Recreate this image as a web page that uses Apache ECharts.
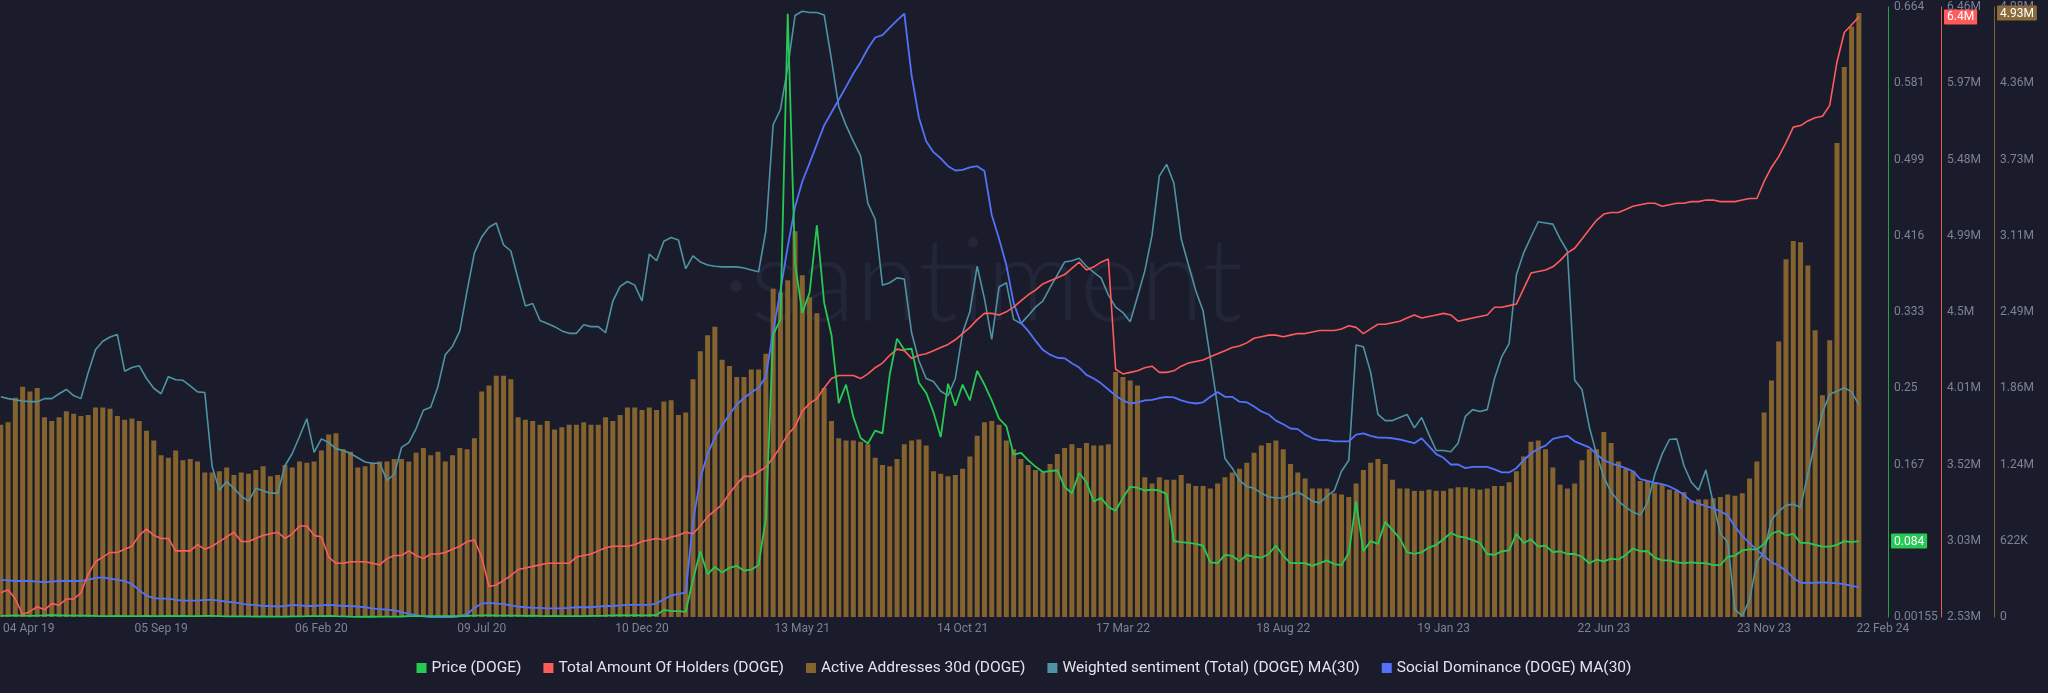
<!DOCTYPE html>
<html>
<head>
<meta charset="utf-8">
<title>DOGE</title>
<script src="https://cdn.jsdelivr.net/npm/echarts@6.0.0/dist/echarts.min.js"></script>
<style>
  html, body { margin: 0; padding: 0; background: #1a1c2b; }
  #main { width: 2048px; height: 693px; }
</style>
</head>
<body>
<div id="main"></div>
<script>
// weekly points, first one is 04 Apr 19, last one 22 Feb 24 (256 weeks)
var startDay = Date.UTC(2019, 3, 4);
var weeksShown = 260; // axis runs a few weeks past the last point

var price = [
  0.0027, 0.0031, 0.0032, 0.0030, 0.0028, 0.0031, 0.0033, 0.0037, 0.0034, 0.0032,
  0.0030, 0.0031, 0.0029, 0.0027, 0.0026, 0.0026, 0.0027, 0.0025, 0.0026, 0.0026,
  0.0027, 0.0026, 0.0025, 0.0027, 0.0026, 0.0027, 0.0025, 0.0026, 0.0027, 0.0028,
  0.0026, 0.0023, 0.0022, 0.0023, 0.0022, 0.0020, 0.0021, 0.0020, 0.0020, 0.0020,
  0.0022, 0.0023, 0.0024, 0.0026, 0.0025, 0.0027, 0.0024, 0.0022, 0.0019, 0.0017,
  0.0019, 0.0018, 0.0019, 0.0019, 0.0020, 0.0021, 0.0024, 0.0025, 0.0025, 0.0026,
  0.0025, 0.0024, 0.0025, 0.0025, 0.0027, 0.0030, 0.0033, 0.0034, 0.0032, 0.0031,
  0.0031, 0.0030, 0.0028, 0.0029, 0.0027, 0.0026, 0.0027, 0.0026, 0.0026, 0.0026,
  0.0026, 0.0027, 0.0028, 0.0030, 0.0033, 0.0035, 0.0034, 0.0036, 0.0034, 0.0034,
  0.0037, 0.0093, 0.0080, 0.0080, 0.0072, 0.042, 0.073, 0.048, 0.056, 0.050,
  0.055, 0.057, 0.052, 0.053, 0.058, 0.109, 0.308, 0.325, 0.657, 0.386,
  0.332, 0.354, 0.427, 0.343, 0.308, 0.234, 0.254, 0.219, 0.196, 0.190,
  0.204, 0.201, 0.265, 0.304, 0.292, 0.293, 0.256, 0.245, 0.224, 0.197,
  0.255, 0.231, 0.254, 0.237, 0.269, 0.254, 0.237, 0.217, 0.209, 0.178,
  0.180, 0.172, 0.165, 0.159, 0.160, 0.161, 0.143, 0.136, 0.158, 0.148,
  0.127, 0.131, 0.121, 0.117, 0.131, 0.143, 0.142, 0.139, 0.140, 0.139,
  0.135, 0.084, 0.083, 0.082, 0.081, 0.079, 0.061, 0.060, 0.069, 0.068,
  0.062, 0.069, 0.067, 0.066, 0.070, 0.079, 0.068, 0.060, 0.060, 0.060,
  0.057, 0.060, 0.063, 0.059, 0.058, 0.071, 0.127, 0.073, 0.084, 0.081,
  0.105, 0.096, 0.087, 0.072, 0.070, 0.072, 0.077, 0.080, 0.086, 0.093,
  0.089, 0.088, 0.085, 0.082, 0.070, 0.069, 0.073, 0.074, 0.092, 0.082,
  0.086, 0.078, 0.079, 0.072, 0.073, 0.070, 0.070, 0.067, 0.060, 0.064,
  0.062, 0.065, 0.064, 0.069, 0.076, 0.073, 0.073, 0.066, 0.063, 0.063,
  0.061, 0.060, 0.061, 0.060, 0.060, 0.058, 0.058, 0.067, 0.068, 0.074,
  0.075, 0.075, 0.081, 0.092, 0.095, 0.090, 0.092, 0.082, 0.082, 0.080,
  0.078, 0.078, 0.080, 0.084, 0.083, 0.084
];

// millions
var holders = [
  2.69, 2.71, 2.65, 2.55, 2.57, 2.60, 2.58, 2.62, 2.61, 2.65,
  2.65, 2.69, 2.81, 2.89, 2.92, 2.95, 2.95, 2.97, 2.99, 3.06,
  3.10, 3.06, 3.04, 3.04, 2.96, 2.96, 2.96, 3.00, 2.97, 2.99,
  3.02, 3.05, 3.08, 3.02, 3.02, 3.04, 3.06, 3.07, 3.08, 3.04,
  3.07, 3.12, 3.12, 3.06, 3.05, 2.92, 2.88, 2.88, 2.89, 2.89,
  2.89, 2.88, 2.87, 2.91, 2.93, 2.93, 2.96, 2.93, 2.91, 2.94,
  2.94, 2.95, 2.97, 2.99, 3.02, 3.03, 2.92, 2.73, 2.74, 2.77,
  2.80, 2.84, 2.85, 2.86, 2.87, 2.88, 2.88, 2.88, 2.88, 2.92,
  2.93, 2.94, 2.96, 2.98, 2.99, 2.99, 2.99, 3.00, 3.02, 3.03,
  3.04, 3.03, 3.05, 3.06, 3.08, 3.07, 3.12, 3.18, 3.22, 3.26,
  3.33, 3.39, 3.44, 3.44, 3.47, 3.50, 3.56, 3.63, 3.71, 3.76,
  3.86, 3.91, 3.94, 4.01, 4.07, 4.09, 4.09, 4.09, 4.07, 4.10,
  4.14, 4.17, 4.22, 4.26, 4.25, 4.20, 4.22, 4.23, 4.25, 4.27,
  4.29, 4.32, 4.36, 4.40, 4.45, 4.49, 4.49, 4.48, 4.50, 4.53,
  4.57, 4.61, 4.64, 4.68, 4.70, 4.72, 4.74, 4.78, 4.82, 4.77,
  4.79, 4.82, 4.84, 4.13, 4.10, 4.11, 4.12, 4.14, 4.15, 4.11,
  4.11, 4.12, 4.15, 4.17, 4.18, 4.19, 4.21, 4.23, 4.25, 4.27,
  4.28, 4.30, 4.33, 4.34, 4.35, 4.35, 4.34, 4.35, 4.36, 4.36,
  4.37, 4.38, 4.38, 4.38, 4.39, 4.41, 4.40, 4.36, 4.39, 4.42,
  4.42, 4.43, 4.44, 4.46, 4.48, 4.46, 4.47, 4.48, 4.49, 4.48,
  4.44, 4.45, 4.46, 4.47, 4.48, 4.53, 4.53, 4.54, 4.55, 4.65,
  4.75, 4.76, 4.77, 4.79, 4.83, 4.88, 4.91, 4.97, 5.03, 5.09,
  5.13, 5.14, 5.14, 5.16, 5.18, 5.19, 5.20, 5.20, 5.18, 5.19,
  5.20, 5.20, 5.21, 5.21, 5.22, 5.22, 5.21, 5.21, 5.21, 5.22,
  5.23, 5.23, 5.34, 5.43, 5.50, 5.59, 5.69, 5.70, 5.73, 5.75,
  5.76, 5.83, 6.11, 6.30, 6.35, 6.40
];

// millions
var activeAddresses = [
  1.57, 1.59, 1.79, 1.88, 1.84, 1.87, 1.63, 1.60, 1.63, 1.68,
  1.66, 1.64, 1.65, 1.71, 1.71, 1.70, 1.64, 1.61, 1.62, 1.60,
  1.52, 1.44, 1.32, 1.30, 1.36, 1.28, 1.29, 1.27, 1.18, 1.18,
  1.19, 1.22, 1.16, 1.18, 1.17, 1.20, 1.23, 1.15, 1.16, 1.24,
  1.22, 1.27, 1.26, 1.27, 1.36, 1.49, 1.50, 1.37, 1.35, 1.22,
  1.23, 1.26, 1.27, 1.27, 1.29, 1.29, 1.27, 1.34, 1.38, 1.32,
  1.35, 1.27, 1.32, 1.38, 1.37, 1.46, 1.84, 1.89, 1.97, 1.97,
  1.94, 1.63, 1.61, 1.60, 1.57, 1.60, 1.53, 1.55, 1.57, 1.57,
  1.59, 1.57, 1.57, 1.63, 1.60, 1.65, 1.71, 1.71, 1.69, 1.71,
  1.69, 1.76, 1.77, 1.65, 1.67, 1.94, 2.17, 2.30, 2.37, 2.10,
  2.05, 1.96, 1.96, 2.02, 2.02, 2.15, 2.68, 2.65, 2.75, 3.15,
  2.79, 2.61, 2.48, 1.87, 1.60, 1.46, 1.44, 1.44, 1.43, 1.41,
  1.30, 1.24, 1.23, 1.29, 1.41, 1.44, 1.45, 1.40, 1.19, 1.17,
  1.15, 1.16, 1.21, 1.31, 1.48, 1.59, 1.60, 1.57, 1.44, 1.37,
  1.29, 1.24, 1.20, 1.18, 1.25, 1.33, 1.38, 1.41, 1.38, 1.42,
  1.40, 1.40, 1.41, 2.00, 1.96, 1.93, 1.89, 1.14, 1.09, 1.14,
  1.12, 1.12, 1.16, 1.09, 1.07, 1.07, 1.05, 1.09, 1.14, 1.18,
  1.21, 1.26, 1.34, 1.40, 1.42, 1.44, 1.37, 1.25, 1.18, 1.13,
  1.05, 1.05, 1.05, 1.01, 1.00, 0.98, 1.09, 1.20, 1.26, 1.29,
  1.25, 1.12, 1.05, 1.05, 1.03, 1.03, 1.04, 1.03, 1.03, 1.05,
  1.06, 1.06, 1.05, 1.04, 1.05, 1.07, 1.07, 1.10, 1.19, 1.31,
  1.43, 1.44, 1.37, 1.22, 1.08, 1.05, 1.09, 1.28, 1.37, 1.37,
  1.51, 1.42, 1.27, 1.21, 1.19, 1.11, 1.11, 1.10, 1.08, 1.04,
  1.03, 1.02, 0.95, 0.96, 0.96, 0.97, 0.98, 1.00, 0.99, 1.01,
  1.13, 1.27, 1.67, 1.93, 2.25, 2.92, 3.07, 3.06, 2.87, 2.34,
  1.81, 2.26, 3.87, 4.49, 4.82, 4.93
];

// MA(30), no scale shown in the chart: kept as a 0..100 index
var sentiment = [
  36.1, 35.8, 35.6, 35.4, 35.3, 35.3, 35.8, 35.8, 36.6, 37.3,
  36.3, 35.8, 40.1, 43.8, 45.2, 45.9, 46.3, 40.3, 40.9, 41.2,
  39.1, 37.5, 36.6, 39.4, 38.9, 38.8, 37.9, 36.9, 36.8, 24.7,
  20.8, 22.2, 21.1, 19.8, 19.0, 21.1, 20.7, 20.3, 20.3, 24.8,
  26.8, 29.6, 32.5, 27.0, 29.2, 28.6, 27.6, 27.3, 26.8, 26.1,
  25.4, 25.2, 25.2, 22.4, 23.4, 27.8, 28.6, 30.9, 33.9, 34.4,
  37.8, 43.0, 44.4, 46.9, 53.5, 59.7, 62.3, 63.9, 64.6, 61.0,
  60.0, 55.4, 51.0, 51.4, 48.6, 48.1, 47.6, 46.9, 46.5, 46.5,
  47.9, 47.6, 47.6, 46.6, 51.8, 54.2, 55.0, 54.4, 51.8, 59.5,
  58.4, 61.6, 62.2, 61.8, 57.1, 59.2, 58.2, 57.7, 57.5, 57.4,
  57.4, 57.4, 57.2, 56.9, 56.6, 63.3, 80.7, 83.2, 90.1, 98.6,
  99.3, 99.1, 99.1, 98.7, 91.4, 83.7, 80.6, 78.0, 75.6, 67.8,
  65.2, 54.4, 54.8, 55.6, 55.4, 46.6, 42.0, 39.1, 38.6, 37.0,
  36.3, 39.1, 46.6, 50.1, 57.5, 52.2, 45.5, 54.1, 54.8, 48.8,
  48.1, 49.4, 50.8, 51.8, 54.0, 56.1, 58.2, 58.4, 58.8, 57.5,
  56.5, 55.6, 52.8, 50.8, 49.9, 48.4, 52.5, 56.7, 62.6, 72.3,
  74.2, 71.1, 62.0, 57.7, 53.5, 50.2, 42.4, 34.5, 26.0, 24.4,
  22.4, 21.4, 21.1, 20.3, 19.7, 19.5, 19.5, 20.0, 20.5, 19.8,
  19.0, 18.7, 19.8, 20.7, 23.9, 25.7, 44.6, 44.3, 40.1, 33.2,
  32.2, 32.2, 32.7, 33.2, 31.0, 32.7, 29.9, 27.3, 27.3, 27.1,
  28.5, 32.9, 34.0, 33.7, 34.0, 39.1, 42.7, 44.8, 56.1, 59.7,
  62.3, 64.8, 64.6, 64.4, 62.0, 60.0, 38.8, 37.3, 31.2, 26.7,
  22.9, 20.5, 19.0, 18.0, 17.2, 16.7, 18.7, 23.4, 26.7, 29.1,
  29.2, 24.8, 22.1, 20.8, 24.1, 18.8, 13.6, 12.3, 1.2, 0.2,
  2.8, 9.0, 10.7, 15.9, 17.3, 18.3, 18.5, 18.0, 23.4, 28.6,
  33.5, 36.5, 37.0, 37.6, 36.9, 34.8
];

// MA(30), no scale shown in the chart: kept as a 0..100 index
var socialDominance = [
  6.1, 6.0, 5.9, 5.9, 5.9, 5.8, 5.7, 5.8, 5.9, 5.9,
  5.9, 5.9, 6.1, 6.4, 6.5, 6.3, 6.1, 5.9, 5.4, 4.4,
  3.5, 3.1, 3.0, 3.0, 2.8, 2.7, 2.7, 2.7, 2.8, 2.8,
  2.7, 2.5, 2.4, 2.2, 2.0, 2.0, 1.8, 1.8, 1.7, 1.8,
  2.0, 1.9, 1.8, 1.8, 1.9, 2.0, 1.9, 1.8, 1.8, 1.7,
  1.6, 1.4, 1.3, 1.2, 1.1, 0.8, 0.5, 0.3, 0.1, 0.0,
  0.0, 0.0, 0.0, 0.1, 0.5, 1.5, 2.2, 2.3, 2.2, 2.1,
  1.9, 1.7, 1.6, 1.5, 1.5, 1.4, 1.4, 1.4, 1.5, 1.6,
  1.6, 1.6, 1.7, 1.8, 1.8, 1.9, 2.0, 2.0, 2.0, 2.0,
  2.2, 2.9, 3.5, 3.8, 4.0, 15.6, 22.7, 26.7, 29.4, 31.4,
  33.2, 34.8, 35.9, 36.8, 37.6, 39.4, 46.9, 53.5, 60.7, 67.2,
  71.4, 74.4, 77.5, 80.6, 82.7, 84.8, 86.9, 89.1, 91.0, 93.2,
  95.0, 95.4, 96.6, 97.8, 98.9, 88.8, 81.9, 78.0, 76.2, 75.2,
  73.9, 73.2, 73.3, 73.7, 73.9, 73.1, 65.9, 62.0, 57.7, 51.5,
  48.2, 46.9, 45.3, 43.8, 43.0, 42.5, 42.4, 41.6, 40.9, 39.7,
  39.1, 38.3, 37.3, 36.3, 35.5, 35.0, 35.2, 35.5, 35.6, 35.9,
  36.1, 36.0, 35.5, 35.2, 35.0, 35.2, 36.1, 36.9, 36.1, 36.1,
  35.3, 35.2, 34.5, 33.7, 33.2, 32.2, 31.6, 30.9, 30.8, 29.9,
  29.3, 29.0, 29.0, 28.8, 28.8, 28.8, 29.9, 30.1, 29.7, 29.4,
  29.4, 29.3, 29.1, 28.8, 28.5, 29.3, 28.0, 26.7, 26.1, 25.0,
  25.0, 24.4, 24.6, 24.6, 24.6, 24.2, 23.7, 23.7, 24.4, 25.7,
  26.8, 27.6, 28.1, 29.2, 29.5, 29.7, 28.8, 28.3, 27.8, 26.7,
  25.7, 25.2, 24.8, 24.4, 23.9, 22.6, 22.3, 22.0, 21.8, 21.4,
  20.8, 20.0, 19.0, 18.6, 18.2, 17.8, 17.3, 16.7, 14.8, 13.3,
  12.1, 11.0, 10.0, 9.0, 8.4, 7.6, 6.4, 5.6, 5.6, 5.6,
  5.7, 5.6, 5.5, 5.4, 5.1, 4.9
];

// right-hand tick labels, bottom to top
var priceTicks = ['0.00155', '0.084', '0.167', '0.25', '0.333', '0.416', '0.499', '0.581', '0.664'];
var holderTicks = ['2.53M', '3.03M', '3.52M', '4.01M', '4.5M', '4.99M', '5.48M', '5.97M', '6.46M'];
var addressTicks = ['0', '622K', '1.24M', '1.86M', '2.49M', '3.11M', '3.73M', '4.36M', '4.98M'];

var priceRange = [0.00155, 0.6643];
var holderRange = [2.534, 6.464];
var addressRange = [0, 4.98];

var MONTHS = ['Jan', 'Feb', 'Mar', 'Apr', 'May', 'Jun', 'Jul', 'Aug', 'Sep', 'Oct', 'Nov', 'Dec'];
var dates = [];
for (var i = 0; i < weeksShown; i++) {
    var d = new Date(startDay + i * 7 * 86400000);
    var dd = ('0' + d.getUTCDate()).slice(-2);
    dates.push(dd + ' ' + MONTHS[d.getUTCMonth()] + ' ' + String(d.getUTCFullYear()).slice(2));
}
var lastIdx = price.length - 1;

function tickValues(range, n) {
    var out = [];
    for (var k = 0; k < n; k++) out.push(range[0] + (range[1] - range[0]) * k / (n - 1));
    return out;
}
function tickLabel(range, names) {
    return function (v) {
        var k = Math.round((v - range[0]) / (range[1] - range[0]) * (names.length - 1));
        return names[k];
    };
}

var axisText = { color: '#7d8298', fontSize: 12, fontFamily: 'Roboto, sans-serif' };

function rightAxis(range, names, offset, lineColor, tagColor, tagValue, tagText) {
    return {
        type: 'value',
        position: 'right',
        offset: offset,
        min: range[0],
        max: range[1],
        splitLine: { show: false },
        axisTick: { show: false },
        axisLine: { show: true, lineStyle: { color: lineColor, width: 1 } },
        axisLabel: Object.assign({
            margin: 6,
            customValues: tickValues(range, names.length),
            formatter: tickLabel(range, names)
        }, axisText),
        axisPointer: {
            show: true,
            status: 'show',
            value: tagValue,
            triggerTooltip: false,
            lineStyle: { opacity: 0, width: 0 },
            label: {
                show: true,
                margin: 3,
                backgroundColor: tagColor,
                color: '#ffffff',
                fontSize: 12,
                fontFamily: 'Roboto, sans-serif',
                padding: [2, 3, 1, 3],
                borderRadius: 1,
                formatter: function () { return tagText; }
            }
        }
    };
}

var myChart = echarts.init(document.getElementById('main'));

myChart.setOption({
    backgroundColor: '#1a1c2b',
    animation: false,
    graphic: [{
        type: 'text',
        left: 722,
        top: 226,
        z: 0,
        style: {
            text: '·santiment',
            fill: '#232638',
            fontSize: 116,
            fontWeight: 300,
            fontFamily: 'Lato, sans-serif'
        }
    }],
    legend: {
        bottom: 12,
        left: 'center',
        itemWidth: 10,
        itemHeight: 10,
        itemGap: 22,
        icon: 'rect',
        textStyle: { color: '#e2e4ec', fontSize: 15.5, fontFamily: 'Roboto, sans-serif' },
        data: ['Price (DOGE)', 'Total Amount Of Holders (DOGE)', 'Active Addresses 30d (DOGE)',
               'Weighted sentiment (Total) (DOGE) MA(30)', 'Social Dominance (DOGE) MA(30)']
    },
    grid: { left: 0, right: 160, top: 7, bottom: 76 },
    xAxis: {
        type: 'category',
        data: dates,
        boundaryGap: false,
        axisLine: { show: false },
        axisTick: { show: false },
        axisLabel: {
            color: '#7d8298',
            fontSize: 12,
            fontFamily: 'Roboto, sans-serif',
            margin: 6,
            interval: function (idx) { return idx % 22 === 0 || idx === lastIdx; },
            formatter: function (v, idx) {
                if (idx === 0) return '{first|' + v + '}';
                if (idx === lastIdx) return '{last|' + v + '}';
                return v;
            },
            rich: {
                first: { padding: [0, 0, 0, 56], color: '#7d8298', fontSize: 12, fontFamily: 'Roboto, sans-serif' },
                last: { padding: [0, 0, 0, 48], color: '#7d8298', fontSize: 12, fontFamily: 'Roboto, sans-serif' }
            }
        },
        splitLine: { show: false }
    },
    yAxis: [
        rightAxis(priceRange, priceTicks, 0, '#1fa548', '#26c953', price[lastIdx], '0.084'),
        rightAxis(holderRange, holderTicks, 53, '#e85a5a', '#ff5b5b', holders[lastIdx], '6.4M'),
        rightAxis(addressRange, addressTicks, 106, '#7f6134', '#8a6a38', activeAddresses[lastIdx], '4.93M'),
        { type: 'value', show: false, min: 0, max: 100, splitLine: { show: false } },
        { type: 'value', show: false, min: 0, max: 100, splitLine: { show: false } }
    ],
    series: [
        {
            name: 'Active Addresses 30d (DOGE)',
            type: 'bar',
            yAxisIndex: 2,
            barWidth: 5,
            itemStyle: { color: '#84632f' },
            data: activeAddresses
        },
        {
            name: 'Weighted sentiment (Total) (DOGE) MA(30)',
            type: 'line',
            yAxisIndex: 3,
            symbol: 'none',
            lineStyle: { color: '#4f93a3', width: 1.6 },
            itemStyle: { color: '#4f93a3' },
            data: sentiment
        },
        {
            name: 'Social Dominance (DOGE) MA(30)',
            type: 'line',
            yAxisIndex: 4,
            symbol: 'none',
            lineStyle: { color: '#5272fb', width: 1.8 },
            itemStyle: { color: '#5272fb' },
            data: socialDominance
        },
        {
            name: 'Total Amount Of Holders (DOGE)',
            type: 'line',
            yAxisIndex: 1,
            symbol: 'none',
            lineStyle: { color: '#ff5b5b', width: 1.6 },
            itemStyle: { color: '#ff5b5b' },
            data: holders
        },
        {
            name: 'Price (DOGE)',
            type: 'line',
            yAxisIndex: 0,
            symbol: 'none',
            lineStyle: { color: '#26c953', width: 1.8 },
            itemStyle: { color: '#26c953' },
            data: price
        }
    ]
});
</script>
</body>
</html>
